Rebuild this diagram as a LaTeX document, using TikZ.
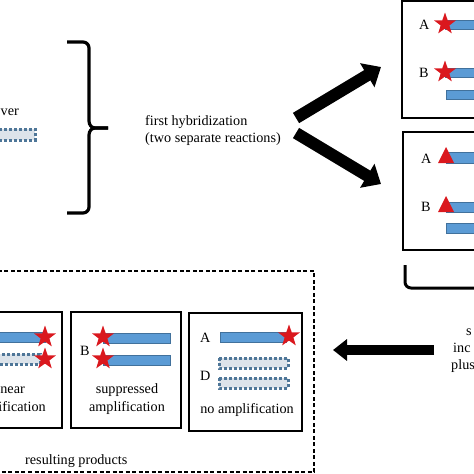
\documentclass[tikz,border=0pt]{standalone}
\usepackage{fontspec}
\setmainfont{Liberation Serif}
\usetikzlibrary{shapes.geometric,arrows.meta}
\definecolor{barblue}{RGB}{91,155,213}
\definecolor{baredge}{RGB}{65,113,156}
\definecolor{starred}{RGB}{218,24,30}
\definecolor{dashblue}{RGB}{78,118,152}
\definecolor{dashfill}{RGB}{220,227,234}
\begin{document}
\begin{tikzpicture}[x=1pt,y=-1pt,
 lbl/.style={font=\fontsize{14.2}{17}\selectfont, inner sep=0pt},
 panel/.style={draw=black, line width=1.4pt},
 bar/.style={fill=barblue, draw=baredge, line width=0.6pt},
 dbar/.style={fill=dashfill, draw=dashblue, line width=3pt, dash pattern=on 3pt off 2pt},
 redstar/.style={star, star points=5, star point ratio=2.5, minimum size=23pt, inner sep=0pt, fill=starred},
 bigarrow/.style={line width=12pt, -{Triangle[length=16pt,width=27pt]}},
 leftarrow/.style={line width=10pt, -{Triangle[length=14pt,width=21pt]}},
 bracestyle/.style={line width=3.2pt, line join=round},
]
\useasboundingbox (0,0) rectangle (474,474);
\clip (0,0) rectangle (474,474);

% top left
\node[lbl, anchor=base east] (ver) at (19,115) {ver};
\draw[dbar] (-5,129) rectangle (35,140);

% brace
\draw[bracestyle] (67,42) -- (83,42) to[out=0,in=90] (89,48) -- (89,121) to[out=-90,in=180] (95,128) -- (108,128);
\draw[bracestyle] (108,128) -- (95,128) to[out=180,in=90] (89,135) -- (89,207) to[out=-90,in=0] (83,213) -- (67,213);

% middle text
\node[lbl, anchor=base west] (hyb1) at (145,125) {first hybridization};
\node[lbl, anchor=base west] (hyb2) at (145,142) {(two separate reactions)};

% middle arrows
\coordinate (ua0) at (296,118);
\coordinate (ua1) at (381,67);
\coordinate (ub0) at (296,133);
\coordinate (ub1) at (381,184);
\draw[bigarrow] (ua0) -- (ua1);
\draw[bigarrow] (ub0) -- (ub1);

% top right box
\draw[panel] (402,1) rectangle (480,118);
\draw[bar] (445,20) rectangle (480,29);
\node[redstar] (s1) at (445,24) {};
\node[lbl, anchor=base west] (t1a) at (419,29) {A};
\draw[bar] (445,68) rectangle (480,77);
\node[redstar] (s2) at (445,72) {};
\node[lbl, anchor=base west] (t1b) at (419,77) {B};
\draw[bar] (446,90) rectangle (480,99);

% second right box
\draw[panel] (403,132) rectangle (480,250);
\draw[bar] (446,152) rectangle (480,163);
\fill[starred] (438,163) -- (446,147) -- (454,163) -- cycle;
\node[lbl, anchor=base west] (t2a) at (421,163) {A};
\draw[bar] (446,202) rectangle (480,212);
\fill[starred] (438,212) -- (446,196) -- (454,212) -- cycle;
\node[lbl, anchor=base west] (t2b) at (421,211) {B};
\draw[bar] (446,223) rectangle (480,233);

% bracket
\draw[line width=3pt, rounded corners=6pt] (405,265) -- (405,288) -- (480,288);

% right text
\node[lbl, anchor=base west] (r1) at (466,335) {s};
\node[lbl, anchor=base west] (r2) at (453,352) {inc};
\node[lbl, anchor=base west] (r3) at (451,369) {plus};

% left arrow
\coordinate (la0) at (434,350);
\coordinate (la1) at (333,350);
\draw[leftarrow] (la0) -- (la1);

% dashed outer box
\draw[line width=1.5pt, dash pattern=on 4pt off 2.5pt] (-5,271) rectangle (314,472);

% box 1
\draw[panel] (-50,312) rectangle (62,428);
\draw[bar] (-10,332) rectangle (45,342);
\node[redstar] (b1s1) at (45,337) {};
\draw[dbar] (-10,354) rectangle (40,364);
\node[redstar] (b1s2) at (45,359) {};
\node[lbl, anchor=base east] (b1t1) at (25,393) {near};
\node[lbl, anchor=base east] (b1t2) at (46,411) {ification};

% box 2
\draw[panel] (71,312) rectangle (181,428);
\draw[bar] (103,333) rectangle (170,343);
\node[redstar] (b2s1) at (103,337) {};
\draw[bar] (103,355) rectangle (170,365);
\node[redstar] (b2s2) at (103,359) {};
\node[lbl, anchor=base west] (b2b) at (80,355) {B};
\node[lbl, anchor=base] (b2t1) at (127,393) {suppressed};
\node[lbl, anchor=base] (b2t2) at (127,411) {amplification};

% box 3
\draw[panel] (189,313) rectangle (302,431);
\node[lbl, anchor=base west] (b3a) at (200,342) {A};
\draw[bar] (220,332) rectangle (286,342);
\node[redstar] (b3s) at (289,336) {};
\draw[dbar] (219,358) rectangle (288,368);
\draw[dbar] (219,378) rectangle (288,388);
\node[lbl, anchor=base west] (b3d) at (200,380) {D};
\node[lbl, anchor=base] (b3t) at (247,413) {no amplification};

% caption
\node[lbl, anchor=base west] (res) at (25,464) {resulting products};
\end{tikzpicture}
\end{document}
